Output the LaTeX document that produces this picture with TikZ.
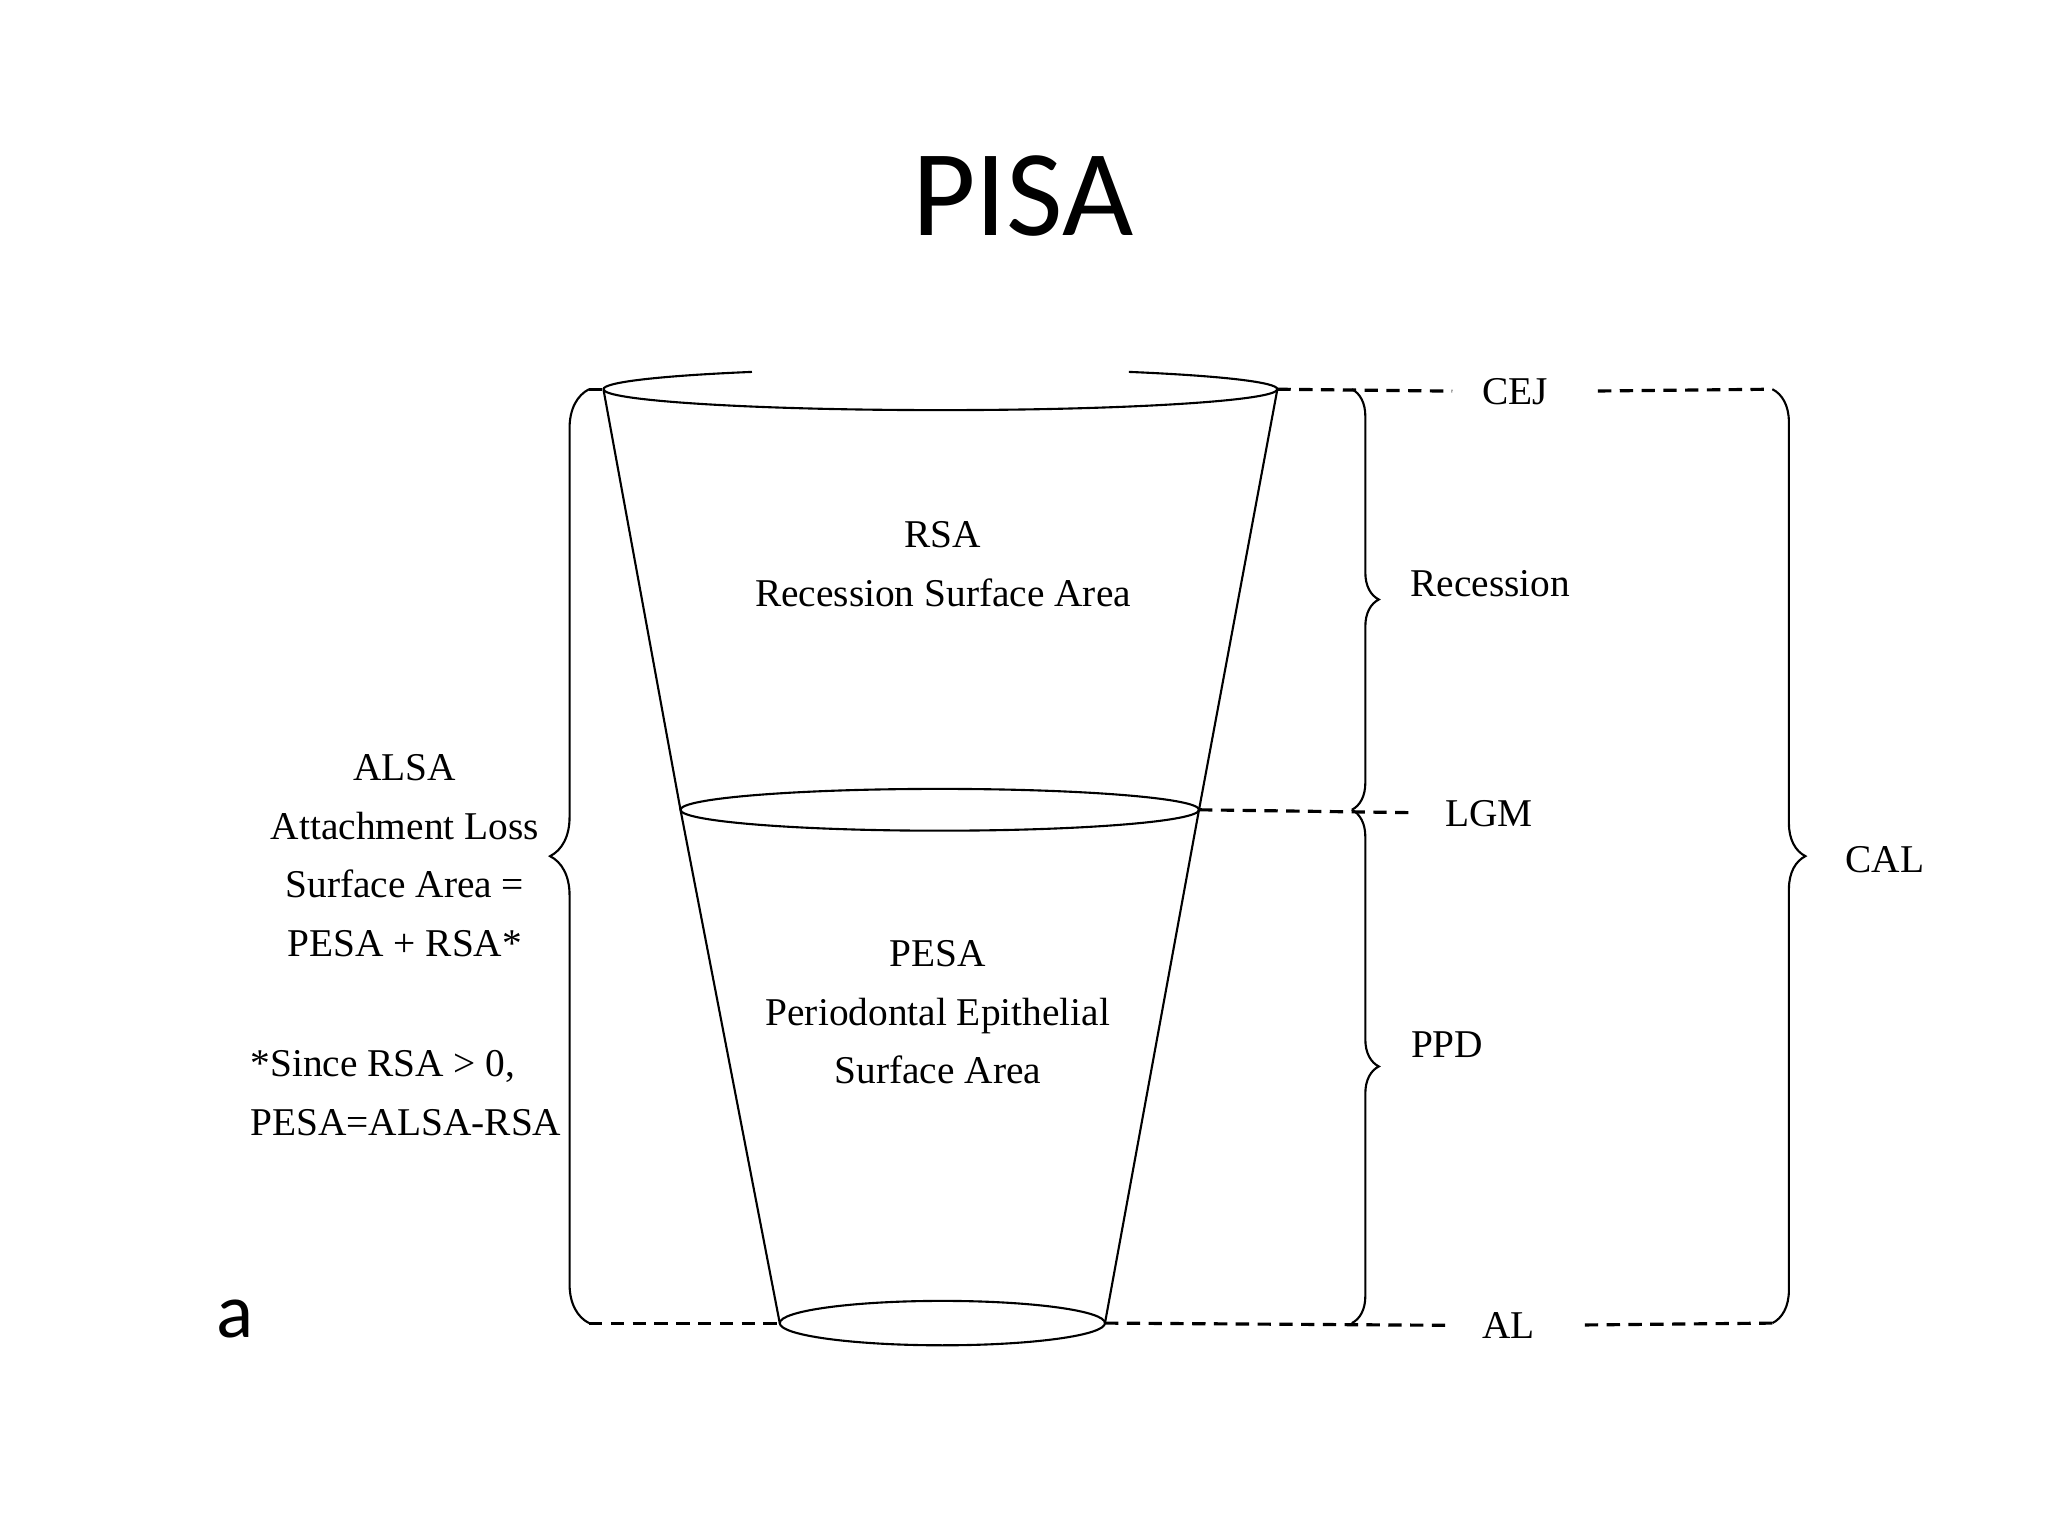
\documentclass[tikz,border=0pt]{standalone}
\usepackage{fontspec}
\setmainfont{Liberation Serif}
\newfontfamily\titlefont{Carlito}
\usetikzlibrary{positioning,decorations.pathreplacing}

\begin{document}
\begin{tikzpicture}[x=0.013061cm,y=-0.013061cm,line width=0.6pt,
  lbl/.style={font=\fontsize{11.2}{16.7}\selectfont,align=center,inner sep=0pt},
  level lbl/.style={lbl,inner xsep=0.29cm,inner ysep=2pt},
  levelline/.style={dash pattern=on 3.8pt off 2.4pt,line width=0.9pt},
  bracket/.style={decorate,decoration={brace,amplitude=#1}}]

  \useasboundingbox (0,0) rectangle (1568,1176);

  % title and panel letter
  \node (title) at (783,150) {\titlefont\fontsize{35}{40}\selectfont PISA};
  \node (panel) at (180,1010) {\titlefont\fontsize{22}{26}\selectfont a};

  % rim points of the three levels
  \coordinate (cejL) at (462,298);
  \coordinate (cejR) at (978,298);
  \coordinate (lgmL) at (521,620);
  \coordinate (lgmR) at (918,620);
  \coordinate (alL) at (597,1013);
  \coordinate (alR) at (846,1013);

  % cup
  \draw (cejL) -- (lgmL) -- (alL);
  \draw (cejR) -- (lgmR) -- (alR);
  \draw (cejL) arc[start angle=180,end angle=0,x radius=258,y radius=16];
  \draw (cejL) arc[start angle=180,end angle=236,x radius=258,y radius=16];
  \draw (cejR) arc[start angle=0,end angle=-56,x radius=258,y radius=16];
  \draw (719.5,620) ellipse[x radius=198.5,y radius=16];
  \draw (721.5,1013) ellipse[x radius=124.5,y radius=17];

  % texts inside the cup
  \node[lbl] (rsa) at (722,432) {RSA\\Recession Surface Area};
  \node[lbl] (pesa) at (718,775) {PESA\\Periodontal Epithelial\\Surface Area};

  % level labels
  \node[level lbl] (cej) at (1160,300) {CEJ};
  \node[level lbl] (lgm) at (1140,623) {LGM};
  \node[level lbl] (al) at (1155,1015) {AL};
  \node[lbl] (rec) at (1141,447) {Recession};
  \node[lbl] (ppd) at (1108,800) {PPD};
  \node[lbl] (cal) at (1443,658) {CAL};

  % brace ends
  \coordinate (alsaT) at (451,298);
  \coordinate (alsaB) at (451,1013);
  \coordinate (recT) at (1035,298);
  \coordinate (recB) at (1035,620);
  \coordinate (ppdB) at (1035,1013);
  \coordinate (calT) at (1357,298);
  \coordinate (calB) at (1357,1013);

  % dashed level lines
  \draw[levelline] (alsaT) -- (cejL);
  \draw[levelline] (cejR) -- (cej);
  \draw[levelline,shorten <=0.2cm] (cej) -- (calT);
  \draw[levelline] (lgmR) -- (lgm);
  \draw[levelline] (alsaB) -- (alL);
  \draw[levelline] (alR) -- (al);
  \draw[levelline,shorten <=0.2cm] (al) -- (calB);

  % braces
  \draw[bracket=0.39cm] (alsaB) -- (alsaT);
  \draw[bracket=0.27cm] (recT) -- (recB);
  \draw[bracket=0.27cm] (recB) -- (ppdB);
  \draw[bracket=0.33cm] (calT) -- (calB);

  % ALSA explanation
  \node[lbl] (alsa) at (310,655) {ALSA\\Attachment Loss\\Surface Area =\\PESA + RSA*};
  \node[lbl,align=left,anchor=west] (note) at (191,837) {*Since RSA > 0,\\PESA=ALSA-RSA};

\end{tikzpicture}
\end{document}
